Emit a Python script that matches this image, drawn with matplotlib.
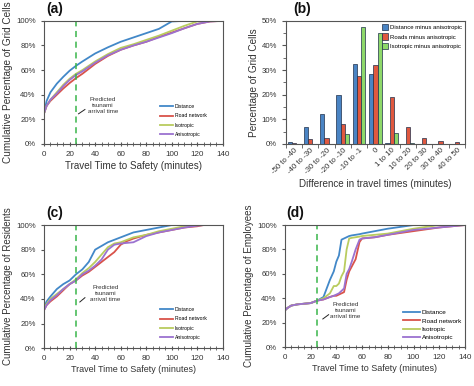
import numpy as np
import matplotlib.pyplot as plt
from matplotlib.ticker import MultipleLocator, PercentFormatter

plt.rcParams['font.family'] = ['Liberation Sans', 'DejaVu Sans']

# ---- panel (a): grid cells ----
t_a = [0, 2, 5, 10, 15, 20, 25, 30, 40, 50, 60, 70, 80, 90, 100, 110, 120, 130, 140]
a_distance = [25, 35, 42, 49, 54.5, 59.5, 63.5, 67, 73.5, 78.5, 83, 86.5, 90, 93.5, 99.5, 100, 100, 100, 100]
a_road = [25, 31, 35, 40, 45, 49.5, 53.5, 57, 65, 71.5, 76.5, 80, 83, 87, 90.5, 94, 97.5, 99.5, 100]
a_iso = [25, 31, 36, 42, 48, 53, 57, 60, 67, 73, 78, 81, 84.5, 88, 92, 96, 99.5, 100, 100]
a_aniso = [25, 31, 36, 41, 47, 52, 56, 59, 66, 72, 76.5, 80, 83, 86.5, 90, 94, 97.5, 99.5, 100]

# ---- panel (b): differences ----
b_cats = ['-50 to -40', '-40 to -30', '-30 to -20', '-20 to -10', '-10 to -1', '0',
          '1 to 10', '10 to 20', '20 to 30', '30 to 40', '40 to 50']
b_distance = [1.0, 7.0, 12.0, 20.0, 32.5, 28.3, 0.3, 0.1, 0, 0, 0]
b_roads = [0.6, 2.0, 2.3, 8.0, 27.5, 32.0, 19.0, 6.8, 2.6, 1.2, 0.8]
b_iso = [0, 0, 0, 4.0, 47.5, 45.0, 4.5, 0.3, 0, 0, 0]

# ---- panel (c): residents ----
t_c = [0, 2, 5, 10, 15, 20, 25, 30, 35, 40, 45, 50, 55, 60, 65, 70, 80, 90, 100, 110, 120, 125, 140]
c_distance = [33, 38, 42, 48, 52, 55, 60, 64, 70, 80, 83, 86, 88, 90, 92, 94, 96, 98, 100, 100, 100, 100, 100]
c_road = [31, 35, 38, 42, 47, 52, 55, 59, 62, 66, 70, 74, 78, 84, 87, 89, 92, 94, 96, 98, 99, 100, 100]
c_iso = [32, 36, 40, 44, 48, 52, 56, 61, 65, 70, 76, 82, 85, 86, 88, 90, 92, 95, 97, 99, 100, 100, 100]
c_aniso = [31, 35, 39, 43, 48, 52, 55, 60, 63, 67, 72, 80, 84, 85, 85.5, 86, 91, 94, 96, 98, 99.5, 100, 100]

# ---- panel (d): employees ----
t_d = [0, 2, 5, 10, 20, 25, 30, 35, 38, 40, 42, 44, 46, 48, 50, 52, 55, 58, 60, 70, 80, 100, 120, 140]
d_distance = [30, 32, 34, 35, 36, 38, 41, 55, 62, 70, 75, 88, 89, 90, 91, 91.5, 92, 92.5, 93, 95, 97, 100, 100, 100]
d_road = [30, 32, 34, 35, 36, 38, 39, 41, 42, 42, 43, 44, 45, 55, 62, 66, 72, 86, 89, 90, 92, 95, 98, 100]
d_iso = [30, 32, 34, 35, 36, 38, 40, 44, 50, 50, 52, 58, 62, 80, 89, 89.5, 90, 90.5, 91, 92, 93, 97, 100, 100]
d_aniso = [30, 32, 34, 35, 36, 38, 39, 41, 42, 43, 44, 46, 48, 60, 64, 70, 80, 88, 89, 90, 92, 96, 98, 100]

arrival_time = 25

line_colors = ['#4288c8', '#d9534a', '#b9cc5e', '#9b72d0']
line_names = ['Distance', 'Road network', 'Isotropic', 'Anisotropic']
bar_colors = ['#4a84c4', '#e0583f', '#8ed86a']
bar_names = ['Distance minus anisotropic', 'Roads minus anisotropic', 'Isotropic minus anisotropic']

spine_col = '#555555'
text_col = '#333333'

fig = plt.figure(figsize=(4.74, 3.86), dpi=100)


def style_axes(ax):
    for s in ax.spines.values():
        s.set_color(spine_col)
        s.set_linewidth(0.8)
    ax.tick_params(colors=spine_col, labelcolor=text_col, labelsize=5.6, length=3, width=0.8)


def cdf_panel(rect, t, series, ylabel, label, text_xy, lead, legend_anchor,
              ysize, xsize, legsize, legspace):
    ax = fig.add_axes(rect)
    for y, c, n in zip(series, line_colors, line_names):
        ax.plot(t, y, color=c, lw=1.3, label=n)
    ax.axvline(arrival_time, color='#39b54a', ls=(0, (4, 3)), lw=1.1)
    ax.set_xlim(0, 140)
    ax.set_ylim(0, 100)
    ax.xaxis.set_major_locator(MultipleLocator(20))
    ax.xaxis.set_minor_locator(MultipleLocator(5))
    ax.yaxis.set_major_locator(MultipleLocator(20))
    ax.yaxis.set_major_formatter(PercentFormatter(decimals=0))
    style_axes(ax)
    ax.tick_params(axis='x', which='both', direction='inout', labelsize=5.8)
    ax.tick_params(axis='x', which='minor', length=3, color=spine_col)
    ax.tick_params(axis='y', direction='out', length=2.5)
    ax.set_ylabel(ylabel, fontsize=ysize, color=text_col, labelpad=2)
    ax.set_xlabel('Travel Time to Safety (minutes)', fontsize=xsize, color=text_col, labelpad=2)
    ax.text(text_xy[0], text_xy[1], 'Predicted\ntsunami\narrival time', fontsize=4.5,
            color=text_col, ha='center', va='center', linespacing=1.25)
    ax.plot(lead[0], lead[1], color='#222222', lw=0.7)
    ax.legend(loc='center left', bbox_to_anchor=legend_anchor, frameon=False, fontsize=legsize,
              handlelength=2.6, labelspacing=legspace, handletextpad=0.3, borderpad=0,
              borderaxespad=0)
    ax.text(0.01, 1.04, label, transform=ax.transAxes, fontsize=10, fontweight='bold',
            color='#111111', va='bottom')
    return ax


cdf_panel([0.093, 0.627, 0.377, 0.319], t_a, [a_distance, a_road, a_iso, a_aniso],
          'Cumulative Percentage of Grid Cells', '(a)', (46, 31),
          ([27, 32], [24.5, 28]), (0.648, 0.19), 7.2, 7.1, 3.7, 0.85)

cdf_panel([0.093, 0.098, 0.377, 0.319], t_c, [c_distance, c_road, c_iso, c_aniso],
          'Cumulative Percentage of Residents', '(c)', (48, 44),
          ([28, 32], [37.5, 41]), (0.648, 0.2), 7.0, 6.5, 3.7, 0.85)

cdf_panel([0.601, 0.101, 0.380, 0.316], t_d, [d_distance, d_road, d_iso, d_aniso],
          'Cumulative Percentage of Employees', '(d)', (47, 30),
          ([29.5, 34], [23, 26.5]), (0.656, 0.18), 7.0, 6.5, 4.6, 0.45)

# ---- panel (b) bars ----
ax = fig.add_axes([0.603, 0.627, 0.378, 0.319])
x = np.arange(len(b_cats))
w = 0.26
for i, (vals, c, n) in enumerate(zip([b_distance, b_roads, b_iso], bar_colors, bar_names)):
    ax.bar(x + (i - 1) * w, vals, width=w, color=c, edgecolor='#1f2f4a', lw=0.5, label=n)
ax.set_xlim(-0.5, len(b_cats) - 0.5)
ax.set_ylim(0, 50)
ax.set_xticks(x)
ax.set_xticklabels(b_cats, rotation=45, ha='right', rotation_mode='anchor')
ax.set_xticks(np.arange(len(b_cats) + 1) - 0.5, minor=True)
ax.yaxis.set_major_locator(MultipleLocator(10))
ax.yaxis.set_minor_locator(MultipleLocator(5))
ax.yaxis.set_major_formatter(PercentFormatter(decimals=0))
style_axes(ax)
ax.tick_params(axis='x', which='major', length=0, labelsize=5.6, pad=2)
ax.tick_params(axis='x', which='minor', length=3, direction='out', color=spine_col)
ax.tick_params(axis='y', which='both', direction='out')
ax.tick_params(axis='y', which='minor', length=2, color=spine_col)
ax.set_ylabel('Percentage of Grid Cells', fontsize=7.2, color=text_col, labelpad=2)
ax.set_xlabel('Difference in travel times (minutes)', fontsize=7.1, color=text_col, labelpad=3)
ax.legend(loc='upper right', frameon=False, fontsize=4.3, handlelength=0.9, handleheight=1.3,
          labelspacing=0.5, handletextpad=0.4, borderaxespad=0.3, borderpad=0.2)
ax.text(0.04, 1.04, '(b)', transform=ax.transAxes, fontsize=10, fontweight='bold',
        color='#111111', va='bottom')

fig.savefig('out.png', dpi=100)
